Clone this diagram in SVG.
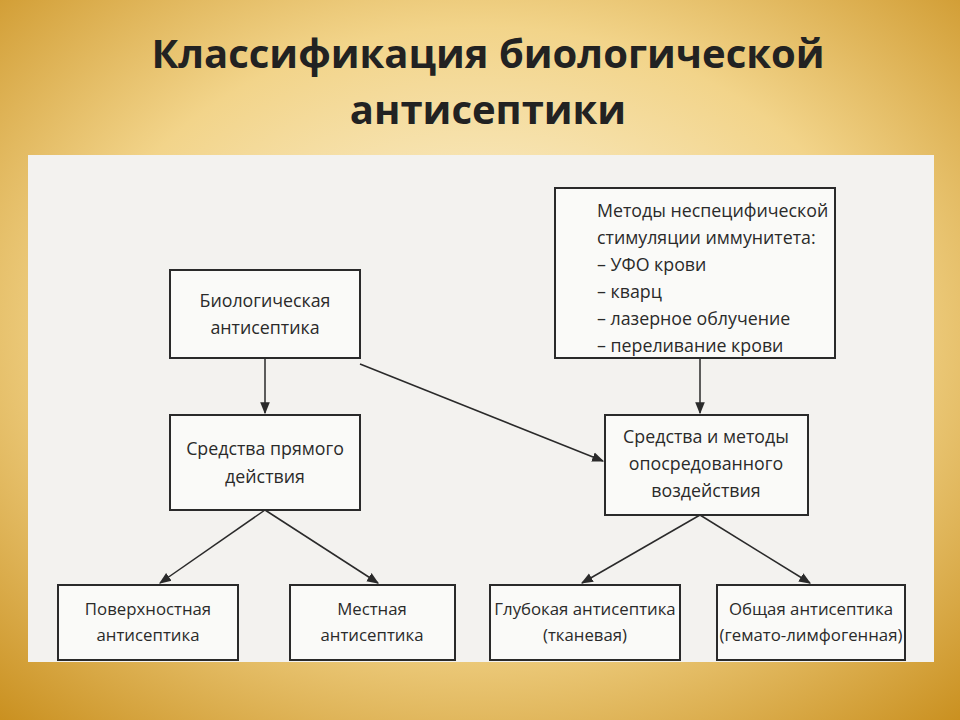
<svg xmlns="http://www.w3.org/2000/svg" width="960" height="720" viewBox="0 0 960 720">
<defs>
<radialGradient id="bg" cx="0.5" cy="0.45" r="0.75">
<stop offset="0" stop-color="#fdf6e0"/><stop offset="0.55" stop-color="#f2d48a"/><stop offset="1" stop-color="#c98f1e"/>
</radialGradient>
<marker id="ar" viewBox="0 0 10 10" refX="9" refY="5" markerWidth="8" markerHeight="8" orient="auto-start-reverse"><path d="M0,1 L10,5 L0,9 z" fill="#2a2a2a"/></marker>
<style>
.box{fill:#fafaf8;stroke:#2a2a2a;stroke-width:2}
.t{font-family:"Open Sans","Liberation Sans",sans-serif;font-size:17.8px;fill:#2a2a2a}
.s{font-size:16.8px}
.c{text-anchor:middle}
.ln{stroke:#2a2a2a;stroke-width:1.5;fill:none;marker-end:url(#ar)}
.title{font-family:"Open Sans","Liberation Sans",sans-serif;font-size:40px;font-weight:bold;fill:#222;text-anchor:middle}
</style>
</defs>
<rect width="960" height="720" fill="url(#bg)"/>
<text class="title" x="488" y="68">Классификация биологической</text>
<text class="title" x="488" y="124">антисептики</text>
<rect x="28" y="155" width="906" height="507" fill="#f3f2ef"/>
<g id="connectors">
<line class="ln" x1="265" y1="358" x2="265" y2="413"/>
<line class="ln" x1="360" y1="364" x2="603" y2="461"/>
<line class="ln" x1="700" y1="358" x2="700" y2="413"/>
<line class="ln" x1="265" y1="510" x2="160" y2="583"/>
<line class="ln" x1="265" y1="510" x2="378" y2="583"/>
<line class="ln" x1="700" y1="515" x2="582" y2="583"/>
<line class="ln" x1="700" y1="515" x2="810" y2="583"/>
</g>
<g id="methods"><rect class="box" x="555" y="188" width="280" height="170"/>
<text class="t" x="597" y="217">Методы неспецифической</text>
<text class="t" x="597" y="244">стимуляции иммунитета:</text>
<text class="t" x="597" y="271">– УФО крови</text>
<text class="t" x="597" y="298">– кварц</text>
<text class="t" x="597" y="325">– лазерное облучение</text>
<text class="t" x="597" y="352">– переливание крови</text></g>
<g id="bio"><rect class="box" x="170" y="270" width="190" height="88"/>
<text class="t c" x="265" y="307">Биологическая</text>
<text class="t c" x="265" y="334">антисептика</text></g>
<g id="direct"><rect class="box" x="170" y="415" width="190" height="95"/>
<text class="t c" x="265" y="455">Средства прямого</text>
<text class="t c" x="265" y="483">действия</text></g>
<g id="indirect"><rect class="box" x="605" y="415" width="203" height="100"/>
<text class="t c" x="706" y="443">Средства и методы</text>
<text class="t c" x="706" y="470">опосредованного</text>
<text class="t c" x="706" y="497">воздействия</text></g>
<g id="surface"><rect class="box" x="58" y="585" width="180" height="75"/>
<text class="t s c" x="148" y="615">Поверхностная</text>
<text class="t s c" x="148" y="641">антисептика</text></g>
<g id="local"><rect class="box" x="290" y="585" width="165" height="75"/>
<text class="t s c" x="372" y="615">Местная</text>
<text class="t s c" x="372" y="641">антисептика</text></g>
<g id="deep"><rect class="box" x="490" y="585" width="190" height="75"/>
<text class="t s c" x="585" y="615">Глубокая антисептика</text>
<text class="t s c" x="585" y="641">(тканевая)</text></g>
<g id="general"><rect class="box" x="717" y="585" width="188" height="75"/>
<text class="t s c" x="811" y="615">Общая антисептика</text>
<text class="t s c" x="811" y="641">(гемато-лимфогенная)</text></g>
</svg>
